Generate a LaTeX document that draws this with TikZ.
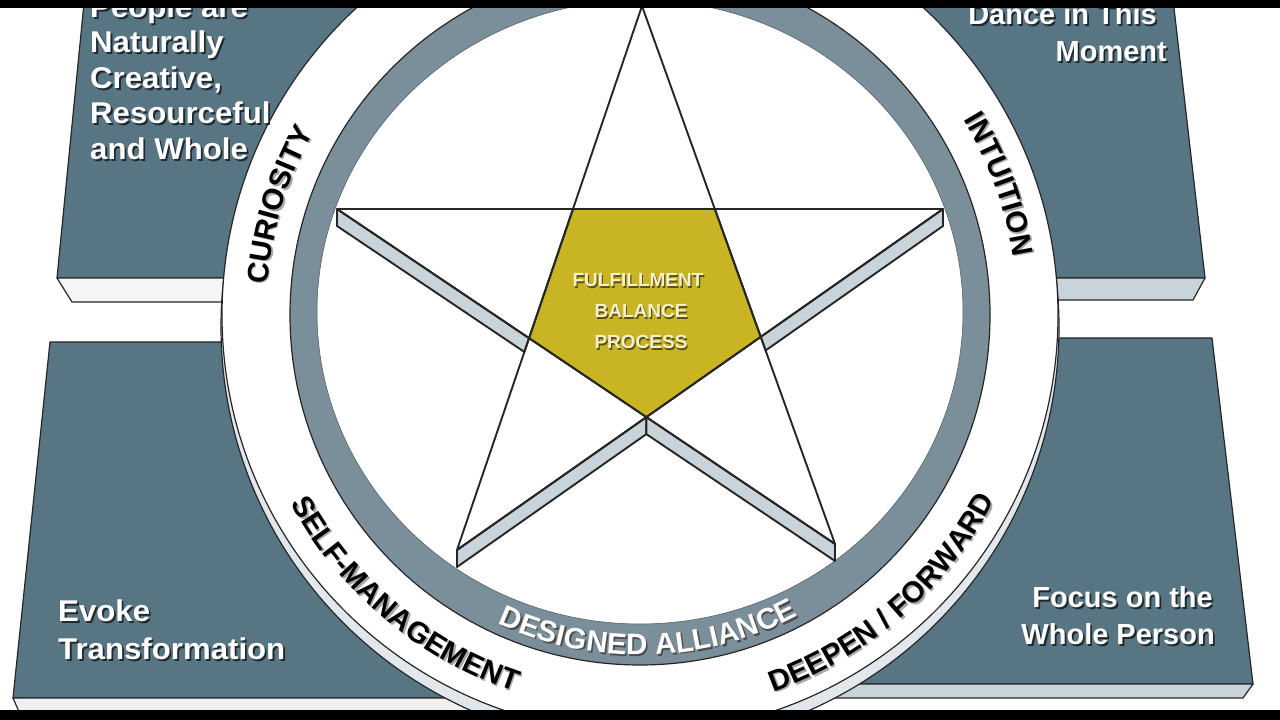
\documentclass[tikz,border=0pt]{standalone}
\usepackage{fontspec}
\setmainfont{Liberation Sans}
\newfontfamily\widefont[FakeStretch=1.04]{Liberation Sans}
\usetikzlibrary{decorations.text,calc}
\definecolor{panel}{HTML}{587584}
\definecolor{ringgray}{HTML}{7B8F9B}
\definecolor{stripblue}{HTML}{C9D3DA}
\definecolor{penta}{HTML}{C9B423}
\definecolor{pentatext}{HTML}{F6F1CC}
\newcommand\pfont{\fontsize{29}{30}\selectfont\bfseries}
\newcommand\wfont{\widefont\fontsize{30}{30}\selectfont\bfseries}
\newcommand\rfont{\fontsize{29.5}{30}\selectfont\bfseries}
\newcommand\cfont{\fontsize{19}{19}\selectfont\bfseries}
\newcommand\shtext[6]{%
  \node[pshad, font=#6, anchor=#2] (#1s) at (#3+1.8,#4-1.8) {#5};
  \node[ptext, font=#6, anchor=#2] (#1) at (#3,#4) {#5};}
\newcommand\cntext[3]{%
  \node[cshad, anchor=base] (#1s) at (#2+1.2,#3-1.2) {#1};
  \node[ctext, anchor=base] (#1) at (#2,#3) {#1};}
\begin{document}
\begin{tikzpicture}[x=1pt,y=1pt,
  panelbox/.style={fill=panel, draw=black!85, line width=1.2pt, line join=round},
  edgebox/.style={draw=black!85, line width=1.2pt, line join=round},
  starline/.style={draw=black!85, line width=1.9pt, line join=round},
  ptext/.style={text=white, inner sep=0pt},
  pshad/.style={text=panel!35!black, inner sep=0pt},
  ctext/.style={text=pentatext, font=\cfont, inner sep=0pt},
  cshad/.style={text=penta!45!black, font=\cfont, inner sep=0pt},
  ringdeco/.style={decorate, decoration={text along path, text align=center, text color=#1}},
]
\useasboundingbox (0,0) rectangle (1280,720);
\fill[white] (0,0) rectangle (1280,720);

% ---- panels ----
\filldraw[panelbox] (84.8,725) -- (57,442) -- (640,442) -- (640,725);
\filldraw[edgebox, fill=black!4] (57,442) -- (72,418) -- (640,418) -- (640,442) -- cycle;
\filldraw[panelbox] (1172.5,725) -- (1205,442) -- (640,442) -- (640,725);
\filldraw[edgebox, fill=stripblue] (1205,442) -- (1193,420) -- (640,420) -- (640,442) -- cycle;
\filldraw[panelbox] (50,378) -- (13,22) -- (640,22) -- (640,378) -- cycle;
\filldraw[edgebox, fill=black!6] (13,22) -- (20,6) -- (640,6) -- (640,22) -- cycle;
\filldraw[panelbox] (1212,382) -- (1253,36) -- (640,36) -- (640,382) -- cycle;
\filldraw[edgebox, fill=stripblue] (1253,36) -- (1243,22) -- (640,22) -- (640,36) -- cycle;

% ---- disc ----
\filldraw[edgebox, fill=stripblue!55!white] (640,393) circle[radius=419];
\filldraw[edgebox, fill=white] (640,405) circle[radius=418];
\fill[ringgray, even odd rule] (640,405) circle[radius=350] (640,408) ellipse[x radius=323, y radius=312];
\draw[black!85, line width=1.2pt] (640,405) circle[radius=350];
\draw[ringgray!70!black, line width=0.6pt] (640,408) ellipse[x radius=323, y radius=312];

% ---- star ----
\coordinate (T) at (642,714);
\coordinate (L) at (337,511);
\coordinate (R) at (943,511);
\coordinate (BL) at (457,170);
\coordinate (BR) at (835,176);
\coordinate (Ls) at (337,494);
\coordinate (Rs) at (943,494);
\coordinate (BLs) at (457,153);
\coordinate (BRs) at (835,159);
\coordinate (P1) at (intersection of T--BL and L--R);
\coordinate (P2) at (intersection of T--BR and L--R);
\coordinate (P3) at (intersection of T--BR and R--BL);
\coordinate (P4) at (intersection of L--BR and R--BL);
\coordinate (P5) at (intersection of T--BL and L--BR);
\coordinate (P4s) at ($(P4)+(0,-17)$);
\coordinate (Q5) at (intersection of T--BL and Ls--BRs);
\coordinate (Q3) at (intersection of T--BR and Rs--BLs);

\filldraw[starline, fill=stripblue] (L) -- (P5) -- (Q5) -- (Ls) -- cycle;
\filldraw[starline, fill=stripblue] (R) -- (P3) -- (Q3) -- (Rs) -- cycle;
\filldraw[starline, fill=stripblue] (P4) -- (BL) -- (BLs) -- (P4s) -- cycle;
\filldraw[starline, fill=stripblue] (P4) -- (BR) -- (BRs) -- (P4s) -- cycle;
\filldraw[starline, fill=penta] (P1) -- (P2) -- (P3) -- (P4) -- (P5) -- cycle;
\draw[starline] (T) -- (BL) (T) -- (BR) (L) -- (R) (L) -- (BR) (R) -- (BL);

\cntext{FULFILLMENT}{638}{433}
\cntext{BALANCE}{641}{402}
\cntext{PROCESS}{641}{371}

% ---- ring labels ----
\begin{scope}[shift={(1.6,-1.6)}]
\path[ringdeco=black!35, decoration={text={|\rfont|CURIOSITY}}] (640,405) ++(195:374) arc[start angle=195, end angle=131, radius=374];
\path[ringdeco=black!35, decoration={text={|\rfont|INTUITION}}] (640,405) ++(50:378) arc[start angle=50, end angle=-10, radius=378];
\path[ringdeco=black!35, decoration={text={|\rfont|SELF-MANAGEMENT}}] (640,405) ++(195:397) arc[start angle=195, end angle=265, radius=397];
\path[ringdeco=black!35, decoration={text={|\rfont|DEEPEN / FORWARD}}] (640,405) ++(275:400) arc[start angle=275, end angle=347, radius=400];
\path[ringdeco=black!70, decoration={text={|\rfont|DESIGNED ALLIANCE}}] (640,405) ++(236:340) arc[start angle=236, end angle=307, radius=340];
\end{scope}
\path[ringdeco=black, decoration={text={|\rfont|CURIOSITY}}] (640,405) ++(195:374) arc[start angle=195, end angle=131, radius=374];
\path[ringdeco=black, decoration={text={|\rfont|INTUITION}}] (640,405) ++(50:378) arc[start angle=50, end angle=-10, radius=378];
\path[ringdeco=black, decoration={text={|\rfont|SELF-MANAGEMENT}}] (640,405) ++(195:397) arc[start angle=195, end angle=265, radius=397];
\path[ringdeco=black, decoration={text={|\rfont|DEEPEN / FORWARD}}] (640,405) ++(275:400) arc[start angle=275, end angle=347, radius=400];
\path[ringdeco=white, decoration={text={|\rfont|DESIGNED ALLIANCE}}] (640,405) ++(236:340) arc[start angle=236, end angle=307, radius=340];

% ---- panel texts ----
\shtext{tl1}{base west}{90}{702.5}{People are}{\wfont}
\shtext{tl2}{base west}{90}{667}{Naturally}{\wfont}
\shtext{tl3}{base west}{90}{631.5}{Creative,}{\wfont}
\shtext{tl4}{base west}{90}{596}{Resourceful}{\wfont}
\shtext{tl5}{base west}{90}{560.5}{and Whole}{\wfont}
\shtext{tr1}{base east}{1157}{695}{Dance in This}{\pfont}
\shtext{tr2}{base east}{1167}{658}{Moment}{\pfont}
\shtext{bl1}{base west}{58}{98}{Evoke}{\wfont}
\shtext{bl2}{base west}{58}{60}{Transformation}{\wfont}
\shtext{br1}{base east}{1213}{112}{Focus on the}{\pfont}
\shtext{br2}{base east}{1215}{75}{Whole Person}{\pfont}

% ---- letterbox bars ----
\fill[black] (0,711.5) rectangle (1280,720);
\fill[black] (0,0) rectangle (1280,10);
\end{tikzpicture}
\end{document}
